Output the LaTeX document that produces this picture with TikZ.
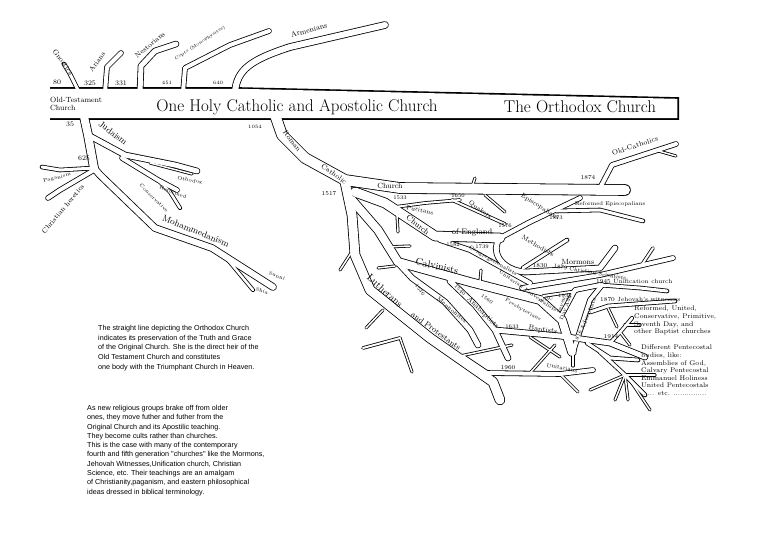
\documentclass[tikz,border=0pt]{standalone}
\usepackage{fontspec}
\newfontfamily\parafont{Liberation Sans}
\begin{document}
\begin{tikzpicture}[x=1pt,y=-1pt]
\def\brpass{1}
\def\br#1#2{\ifnum\brpass=1 \draw[black,line width=#1pt+1.6pt,line cap=round,line join=round] #2;\else\draw[white,line width=#1pt,line cap=round,line join=round] #2;\fi}
\def\trunk{\ifnum\brpass=1 \fill[black] (50,87.2)--(240,87.2)--(679,97.2)--(679,119.8)--(50,119.8)--cycle;\else\fill[white] (40,88.8)--(240,88.8)--(677.3,98.8)--(677.3,118.2)--(40,118.2)--cycle;\fi}
\def\alltree{%
\trunk
\br{3}{(79,92)--(70,74)--(64,64)}
\br{4}{(105,92)--(107,67)--(121,53)}
\br{5}{(140,92)--(141,66)--(155,51)--(176,44)}
\br{4}{(183,92)--(185,68)--(230,45)--(269,31)}
\br{6}{(235,92) .. controls (237,70) and (250,60) .. (290,47) -- (385,25)}
\br{8}{(83,112)--(88,135)--(94,168)}
\br{5}{(88,135)--(125,155)--(175,165)--(197,171)}
\br{1.5}{(150,163)--(192,174)}
\br{4}{(122,158)--(158,180)--(177,190)}
\br{2.5}{(158,180)--(170,192)--(180,208)}
\br{6}{(94,168)--(100,175)--(155,228)--(212,248)--(273,287)}
\br{2.5}{(228,260)--(253,290)}
\br{3}{(94,168)--(60,170)--(42,167)}
\br{4}{(94,170)--(60,190)--(48,198)}
\br{10}{(274,112)--(282,135)--(305,158)--(345,180)--(400,188)--(625,190)}
\br{1.5}{(472,187)--(475,178)}
\br{1.5}{(485,195)--(505,212)}
\br{4}{(600,188)--(612,165)--(676,144)}
\br{1.5}{(655,150)--(676,156)}
\br{9}{(345,182)--(352,215)--(355,255)--(370,290)--(430,338)--(493,382)--(500,400)}
\br{9}{(355,192)--(385,203)--(435,236)--(500,238)}
\br{2}{(395,207)--(425,203)--(460,200)}
\br{2}{(452,200)--(505,224)}
\br{1.5}{(397,215)--(398,232)}
\br{4}{(500,238)--(530,222)--(580,198)}
\br{3}{(556,211)--(600,210)--(643,221)}
\br{5}{(500,238) .. controls (490,250) and (500,270) .. (525,272) -- (600,268) -- (615,248)}
\br{3}{(523,268)--(567,240)}
\br{4}{(440,240)--(470,250)--(530,283)}
\br{4}{(522,288)--(600,275)--(673,258)}
\br{2}{(643,263)--(653,248)}
\br{8}{(352,200)--(378,230)--(398,262)--(470,282)--(540,300)--(562,320)--(572,352)}
\br{1.5}{(480,282)--(481,270)}
\br{5}{(400,265)--(412,278)--(445,302)--(470,330)--(478,345)}
\br{5}{(450,281)--(475,305)--(495,330)--(508,358)}
\br{5}{(495,330)--(560,336)--(610,343)--(645,357)}
\br{1.5}{(530,337)--(560,357)}
\br{2.5}{(610,343)--(622,330)--(632,318)}
\br{1.5}{(620,332)--(630,345)}
\br{1.5}{(625,325)--(640,325)}
\br{1.5}{(608,308)--(617,327)}
\br{3}{(587,343)--(610,358)--(638,360)}
\br{3}{(600,352)--(625,375)--(645,395)}
\br{1.5}{(625,375)--(590,390)}
\br{1.5}{(625,375)--(615,400)}
\br{1.5}{(625,375)--(628,400)}
\br{1.5}{(625,375)--(655,375)}
\br{1.5}{(630,380)--(650,410)}
\br{4}{(573,352)--(590,300)--(602,285)}
\br{4}{(560,318)--(575,290)--(600,285)}
\br{1.5}{(573,352)--(573,366)}
\br{3}{(600,285)--(640,288)--(667,291)}
\br{2}{(543,296)--(577,291)}
\br{3}{(590,312)--(608,306)--(675,301)}
\br{4}{(463,357)--(487,373)--(560,374)--(593,370)}
\br{1.5}{(530,373)--(555,345)}
\br{1.5}{(560,374)--(578,392)}
\br{1.5}{(383,310)--(366,328)}
\br{2}{(400,338)--(363,348)}
\br{1.5}{(400,338)--(412,372)}
\br{1.5}{(460,356)--(512,345)}
\br{1.5}{(353,250)--(340,270)}
\br{1.5}{(385,247)--(410,246)}
\br{1.5}{(395,266)--(378,268)}
}
\tikzset{
 lab/.style={font=\fontsize{#1}{#1}\selectfont, inner sep=0pt},
 lab/.default=7,
 para/.style={font=\parafont\fontsize{7.2}{9.7}\selectfont, align=left, anchor=north west, inner sep=0pt},
 side/.style={font=\fontsize{6.8}{7.6}\selectfont, align=left, anchor=north west, inner sep=0pt}
}
\useasboundingbox (0,0) rectangle (768,542);
\fill[white] (0,0) rectangle (768,542);
\def\brpass{1}\alltree
\def\brpass{2}\alltree
\node[lab=17] (ohc) at (297,107) {One Holy Catholic and Apostolic Church};
\node[lab=17] (orth) at (580,107) {The Orthodox Church};
\node[lab=7.5,align=left,anchor=west] (otc) at (50,104) {Old-Testament\\Church};
\node[lab=7] (n80) at (57,82) {80};
\node[lab=7] (n325) at (90,83) {325};
\node[lab=7] (n331) at (121,83) {331};
\node[lab=5] (n451) at (167,83) {451};
\node[lab=5] (n640) at (218,83) {640};
\node[lab=7,rotate=-55] (gno) at (63,62) {Gnostics};
\node[lab=7,rotate=55] (ari) at (97,62) {Arians};
\node[lab=7,rotate=40] (nes) at (150,45) {Nestorians};
\node[lab=4.5,rotate=33] (cop) at (200,43) {Copts (Monophysites)};
\node[lab=7.5,rotate=15] (arm) at (309,30) {Armenians};
\node[lab=7] (n35) at (70,124) {35};
\node[lab=7] (n625) at (84,158) {625};
\node[lab=9,rotate=-38] (jud) at (113,133) {Judaism};
\node[lab=5,rotate=-12] (ortx) at (190,180) {Othodox};
\node[lab=5,rotate=-20] (refd) at (173,192) {Reformed};
\node[lab=5,rotate=-45] (cons) at (154,198) {Conservative};
\node[lab=9,rotate=-22] (moh) at (196,231) {Mohammedanism};
\node[lab=5,rotate=15] (pag) at (57,178) {Paganism};
\node[lab=7,rotate=50] (chh) at (63,209) {Christian heretics};
\node[lab=5,rotate=-20] (sun) at (277,276) {Sunni};
\node[lab=5,rotate=-20] (shi) at (262,291) {Shia};
\node[lab=5] (n1054) at (255,127) {1054};
\node[lab=7,rotate=-52] (rom) at (292,141) {Roman};
\node[lab=7,rotate=-35] (cat) at (334,174) {Catholic};
\node[lab=7.5] (chu) at (390,186) {Church};
\node[lab=6] (n1517) at (329,194) {1517};
\node[lab=6] (n1874) at (588,178) {1874};
\node[lab=7,rotate=18] (oldc) at (635,146) {Old-Catholics};
\node[lab=5.5] (n1533) at (400,198) {1533};
\node[lab=5.5] (n1650) at (458,196) {1650};
\node[lab=6,rotate=-12] (pur) at (420,210) {Puritans};
\node[lab=6.5,rotate=-35] (qua) at (480,210) {Quakers};
\node[lab=8,rotate=-38] (chen) at (418,225) {Church};
\node[lab=8] (ofen) at (472,232) {of England};
\node[lab=5.5] (n1576) at (505,226) {1576};
\node[lab=6.5,rotate=-32] (epi) at (540,207) {Episcopalians};
\node[lab=5.5] (n1873) at (556,218) {1873};
\node[lab=5.5] (refe) at (610,204) {Reformed Episcopalians};
\node[lab=6.5,rotate=-30] (met) at (538,246) {Methodists};
\node[lab=7.5] (mor) at (578,262) {Mormons};
\node[lab=6] (n1830) at (540,266) {1830};
\node[lab=5.5] (n1582) at (453,245) {1582};
\node[lab=5.5] (n1739) at (482,247) {1739};
\node[lab=5.5,rotate=-30] (cong) at (493,261) {Congregationalists};
\node[lab=5.5,rotate=-10] (chs) at (590,272) {1879 Christian Scientists};
\node[lab=10,rotate=-12] (cal) at (437,266) {Calvinists};
\node[lab=10,rotate=-42] (lut) at (385,291) {Lutherans};
\node[lab=8,rotate=-36] (andp) at (436,331) {and Protestants};
\node[lab=5,rotate=-55] (n1536) at (420,290) {1536};
\node[lab=6,rotate=-40] (men) at (452,310) {Mennonites};
\node[lab=5,rotate=-45] (n1540) at (460,290) {1540};
\node[lab=5,rotate=-35] (n1560) at (487,299) {1560};
\node[lab=7,rotate=-45] (ana) at (483,313) {Anabaptists};
\node[lab=5,rotate=-35] (uni) at (528,291) {Unitarian Universalists};
\node[lab=5,rotate=-30] (pre) at (523,310) {Presbyterians};
\node[lab=5,rotate=70,align=center] (sda) at (564,306) {Seven\\Day Adv.};
\node[lab=6,rotate=68] (adv) at (588,314) {Adventists};
\node[lab=5,rotate=68] (n1816) at (578,337) {1816};
\node[lab=4.5,rotate=20] (wgc) at (546,300) {WGC};
\node[lab=5] (n1934) at (565,296) {1934};
\node[lab=6,anchor=west] (unif) at (596,281) {1945 Unification church};
\node[lab=6,anchor=west] (jeh) at (600,299) {1870 Jehovah's witnesses};
\node[lab=5.5] (n1633) at (512,327) {1633};
\node[lab=7,rotate=-8] (bap) at (543,330) {Baptists};
\node[lab=6] (n1914) at (611,337) {1914};
\node[lab=6] (n1960) at (508,368) {1960};
\node[lab=5.5,rotate=-10] (unit) at (562,368) {Unitarians};
\node[side] (rbap) at (634,306) {Reformed, United,\\Conservative, Primitive,\\Seventh Day, and\\other Baptist churches};
\node[side] (pent) at (641,345) {Different Pentecostal\\bodies, like:\\Assemblies of God,\\Calvary Pentecostal\\Emmanuel Holiness\\United Pentecostals\\...... etc. ...............};
\node[para] (p1) at (98,325) {The straight line depicting the Orthodox Church\\indicates its preservation of the Truth and Grace\\of the Original Church. She is the direct heir of the\\Old Testament Church and constitutes\\one body with the Triumphant Church in Heaven.};
\node[para,font=\parafont\fontsize{7.2}{9.3}\selectfont] (p2) at (87,405) {As new religious groups brake off from older\\ones, they move futher and futher from the\\Original Church and its Apostilic teaching.\\They become cults rather than  churches.\\This is the case with many of the contemporary\\fourth and fifth generation "churches" like the Mormons,\\Jehovah Witnesses,Unification church, Christian\\Science, etc. Their teachings are an amalgam\\of Christianity,paganism, and eastern philosophical\\ideas dressed in biblical terminology.};
\end{tikzpicture}
\end{document}
